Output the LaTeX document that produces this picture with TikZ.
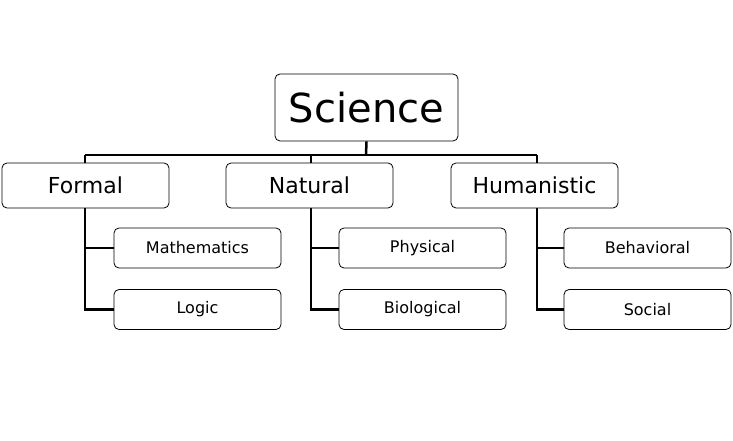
\documentclass[tikz,border=0pt]{standalone}
\usepackage{fontspec}
\setmainfont{DejaVu Sans}
\begin{document}
\begin{tikzpicture}[x=1pt,y=-1pt,
 bx/.style={draw,thick,rounded corners=5pt,inner sep=0pt},
 ln/.style={line width=2.5pt}]
\useasboundingbox (0,0) rectangle (733,441);
\node[bx,minimum width=183,minimum height=67,font=\fontsize{40}{44}\selectfont] (sci) at (366.5,107.5) {Science};
\foreach \n/\t/\x in {f/Formal/85.5,n/Natural/309.5,h/Humanistic/534.5}{
 \node[bx,minimum width=167,minimum height=45,font=\fontsize{22}{26}\selectfont] (\n) at (\x,185.5) {\t};
}
\foreach \n/\t/\x in {fa/Mathematics/197.5,na/Physical/422.5,ha/Behavioral/647.5}{
 \node[bx,minimum width=167,minimum height=40,font=\fontsize{16}{20}\selectfont] (\n) at (\x,248) {\t};}
\foreach \n/\t/\x in {fb/Logic/197.5,nb/Biological/422.5,hb/Social/647.5}{
 \node[bx,minimum width=167,minimum height=40,font=\fontsize{16}{20}\selectfont] (\n) at (\x,309.5) {\t};}
\coordinate (bar) at (366,155);
\draw[ln] (sci.south) -- (bar);
\foreach \n/\x in {f/85,n/311,h/537}{
 \draw[ln] (\x,155) -- (\n.north -| \x,155);
 \draw[ln] (\n.south -| \x,155) |- (\n b.west);
 \draw[ln] (\n a.west) -- (\n a.west -| \x,155);
}
\draw[ln] (85,155) -- (537,155);
\end{tikzpicture}
\end{document}
